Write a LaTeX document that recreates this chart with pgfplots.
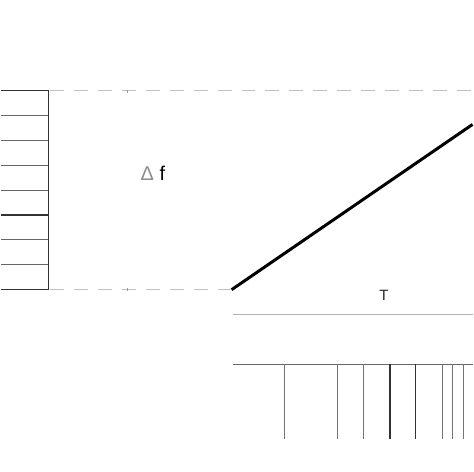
\documentclass[border=0pt]{standalone}
\usepackage{fontspec}
\setmainfont{Liberation Sans}
\usepackage{pgfplots}
\pgfplotsset{compat=1.18}
\begin{document}
\begin{tikzpicture}
\begin{axis}[
    scale only axis, width=474pt, height=474pt,
    xmin=0, xmax=474, ymin=0, ymax=474, y dir=reverse,
    hide axis, clip=false,
]
% frame of the picture
\addplot[draw=none] coordinates {(0,0) (474,474)};
% stack of cells on the left
\addplot[gray!80!black, line width=1pt] coordinates {(0,116) (48,116)};
\addplot[gray!80!black, line width=1pt] coordinates {(0,141) (48,141)};
\addplot[gray!80!black, line width=1pt] coordinates {(0,166) (48,166)};
\addplot[gray!80!black, line width=1pt] coordinates {(0,191) (48,191)};
\addplot[black!80, line width=1.2pt] coordinates {(0,216) (48,216)};
\addplot[gray!80!black, line width=1pt] coordinates {(0,241) (48,241)};
\addplot[gray!80!black, line width=1pt] coordinates {(0,266) (48,266)};
\addplot[black!80, line width=1.2pt] coordinates {(0,91) (48,91) (48,291) (0,291)};
% dashed guides
\addplot[black!25, line width=1pt, dash pattern=on 14pt off 10pt] coordinates {(50,91) (474,91)};
\addplot[black!25, line width=1pt, dash pattern=on 14pt off 10pt] coordinates {(50,291) (230,291)};
\addplot[black!40, line width=0.6pt] coordinates {(127,90) (127,93)};
\addplot[black!40, line width=0.6pt] coordinates {(127,289) (127,292)};
% sweep
\addplot[black, line width=3pt] coordinates {(232,291) (474,125)};
% time axis
\addplot[black!30, line width=1pt] coordinates {(233,316) (474,316)};
\addplot[black!60, line width=1.2pt] coordinates {(233,366) (474,366)};
\addplot[black!55, line width=0.9pt] coordinates {(285,366) (285,441)};
\addplot[black!55, line width=0.9pt] coordinates {(338,366) (338,441)};
\addplot[black!55, line width=0.9pt] coordinates {(364,366) (364,441)};
\addplot[black!80, line width=1.3pt] coordinates {(391,366) (391,441)};
\addplot[black!80, line width=1.3pt] coordinates {(417,366) (417,441)};
\addplot[black!55, line width=0.9pt] coordinates {(444,366) (444,441)};
\addplot[black!55, line width=0.9pt] coordinates {(454,366) (454,441)};
\addplot[black!55, line width=0.9pt] coordinates {(465,366) (465,441)};
% labels
\node[font=\fontsize{20}{21}\selectfont] at (axis cs:153,174) {\textcolor{black!45}{Δ} f};
\node[font=\fontsize{15}{16}\selectfont, text=black!85] at (axis cs:385,297) {T};
\end{axis}
\end{tikzpicture}
\end{document}
